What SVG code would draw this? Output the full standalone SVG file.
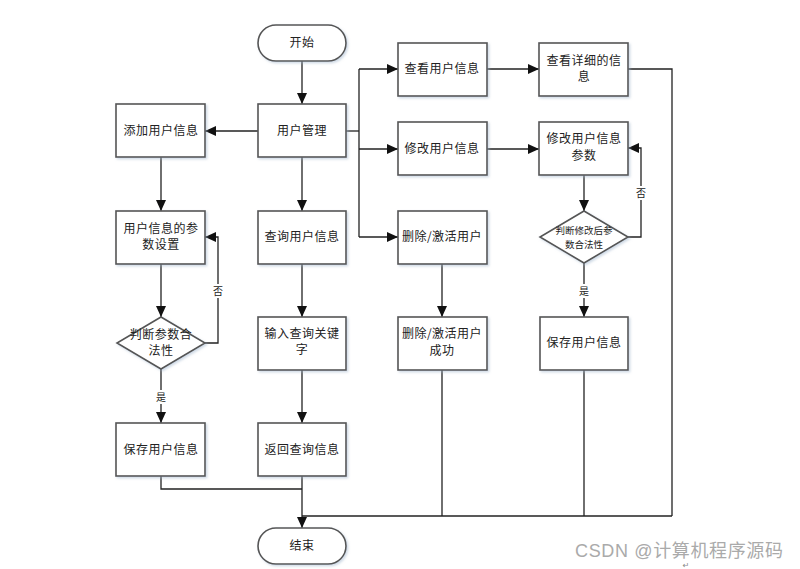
<svg xmlns="http://www.w3.org/2000/svg" width="800" height="569" viewBox="0 0 800 569">
<defs>
<marker id="arr" markerUnits="userSpaceOnUse" markerWidth="12" markerHeight="10" refX="11" refY="5" orient="auto">
<path d="M0,0 L11,5 L0,10 Z" fill="#111"/>
</marker>
<filter id="sh" x="-10%" y="-10%" width="130%" height="130%">
<feDropShadow dx="1.5" dy="1.5" stdDeviation="1" flood-color="#9fb4cc" flood-opacity="0.5"/>
</filter>
</defs>
<style>
.box{fill:#fff;stroke:#555;stroke-width:1.6;filter:url(#sh)}
.t{font-family:"Noto Sans CJK SC","Liberation Sans",sans-serif;font-size:12px;fill:#222;text-anchor:middle;letter-spacing:0.5px}
.ts{font-family:"Noto Sans CJK SC","Liberation Sans",sans-serif;font-size:9.5px;fill:#222;text-anchor:middle}
.c{fill:none;stroke:#222;stroke-width:1.3}
.ca{fill:none;stroke:#222;stroke-width:1.3;marker-end:url(#arr)}
.lb{font-family:"Noto Sans CJK SC","Liberation Sans",sans-serif;font-size:10px;fill:#222;text-anchor:middle}
</style>
<rect width="800" height="569" fill="#fff"/>

<g id="connectors">
<path class="ca" d="M302,61 V104"/>
<path class="ca" d="M258,131 H205"/>
<path class="ca" d="M302,157 V211"/>
<path class="ca" d="M161,157 V211"/>
<path class="ca" d="M161,264 V317"/>
<path class="ca" d="M205,343 H218 V237 H205"/>
<path class="ca" d="M161,369 V423"/>
<path class="ca" d="M302,264 V317"/>
<path class="ca" d="M302,370 V423"/>
<path class="ca" d="M302,476 V528"/>
<path class="c" d="M161,476 V489 H302"/>
<path class="c" d="M346,131 H359"/>
<path class="c" d="M359,69 V237"/>
<path class="ca" d="M359,69 H398"/>
<path class="ca" d="M359,149 H398"/>
<path class="ca" d="M359,237 H398"/>
<path class="ca" d="M487,69 H539"/>
<path class="ca" d="M487,149 H539"/>
<path class="ca" d="M584,175 V211"/>
<path class="ca" d="M628,237 H641 V148 H628"/>
<path class="ca" d="M584,263 V317"/>
<path class="ca" d="M442,264 V317"/>
<path class="c" d="M628,69 H672 V516"/>
<path class="c" d="M672,516 H302" stroke-width="1.8"/>
<path class="c" d="M442,370 V516"/>
<path class="c" d="M584,370 V516"/>
<rect x="211" y="284" width="14" height="14" fill="#fff"/>
<text class="lb" x="218" y="295">否</text>
<rect x="154" y="390" width="14" height="14" fill="#fff"/>
<text class="lb" x="161" y="401">是</text>
<rect x="634" y="186" width="14" height="14" fill="#fff"/>
<text class="lb" x="641" y="197">否</text>
<rect x="577" y="284" width="14" height="14" fill="#fff"/>
<text class="lb" x="584" y="295">是</text>
</g>

<g id="start">
<rect class="box" x="258" y="25" width="88" height="36" rx="18"/>
<text class="t" x="302" y="47">开始</text>
</g>
<g id="user-mgmt">
<rect class="box" x="258" y="104" width="88" height="53"/>
<text class="t" x="302" y="135">用户管理</text>
</g>
<g id="add-user">
<rect class="box" x="116" y="104" width="89" height="53"/>
<text class="t" x="161" y="135">添加用户信息</text>
</g>
<g id="param-set">
<rect class="box" x="116" y="211" width="89" height="53"/>
<text class="t" x="161" y="233">用户信息的参</text>
<text class="t" x="161" y="249">数设置</text>
</g>
<g id="check-valid">
<path class="box" d="M161,317 L205,343 L161,369 L117,343 Z"/>
<text class="t" x="161" y="339">判断参数合</text>
<text class="t" x="161" y="355">法性</text>
</g>
<g id="save-left">
<rect class="box" x="116" y="423" width="89" height="53"/>
<text class="t" x="161" y="454">保存用户信息</text>
</g>
<g id="query-user">
<rect class="box" x="258" y="211" width="88" height="53"/>
<text class="t" x="302" y="241">查询用户信息</text>
</g>
<g id="input-key">
<rect class="box" x="258" y="317" width="88" height="53"/>
<text class="t" x="302" y="338">输入查询关键</text>
<text class="t" x="302" y="354">字</text>
</g>
<g id="return-query">
<rect class="box" x="258" y="423" width="88" height="53"/>
<text class="t" x="302" y="454">返回查询信息</text>
</g>
<g id="end">
<rect class="box" x="258" y="528" width="88" height="36" rx="18"/>
<text class="t" x="302" y="550">结束</text>
</g>
<g id="view-user">
<rect class="box" x="398" y="43" width="89" height="53"/>
<text class="t" x="442" y="73">查看用户信息</text>
</g>
<g id="view-detail">
<rect class="box" x="539" y="43" width="89" height="53"/>
<text class="t" x="584" y="65">查看详细的信</text>
<text class="t" x="584" y="81">息</text>
</g>
<g id="edit-user">
<rect class="box" x="398" y="122" width="89" height="53"/>
<text class="t" x="442" y="153">修改用户信息</text>
</g>
<g id="edit-param">
<rect class="box" x="539" y="122" width="89" height="53"/>
<text class="t" x="584" y="143">修改用户信息</text>
<text class="t" x="584" y="160">参数</text>
</g>
<g id="check-edit">
<path class="box" d="M584,211 L628,237 L584,263 L540,237 Z"/>
<text class="ts" x="584" y="234">判断修改后参</text>
<text class="ts" x="584" y="248">数合法性</text>
</g>
<g id="save-right">
<rect class="box" x="540" y="317" width="88" height="53"/>
<text class="t" x="584" y="347">保存用户信息</text>
</g>
<g id="delete-user">
<rect class="box" x="398" y="211" width="89" height="53"/>
<text class="t" x="442" y="241">删除/激活用户</text>
</g>
<g id="delete-ok">
<rect class="box" x="398" y="317" width="89" height="53"/>
<text class="t" x="442" y="338">删除/激活用户</text>
<text class="t" x="442" y="355">成功</text>
</g>

<text x="575" y="557" font-family="Liberation Sans,Noto Sans CJK SC,sans-serif" font-size="18" fill="#aaa" textLength="208">CSDN @计算机程序源码</text>
<text x="686" y="568" font-family="DejaVu Sans,sans-serif" font-size="8" fill="#888" text-anchor="middle">↵</text>
</svg>
